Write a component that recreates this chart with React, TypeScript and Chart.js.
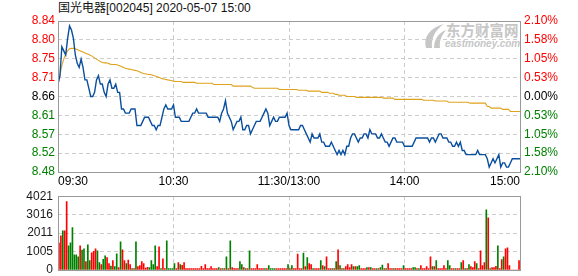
import React, { useEffect, useRef } from 'react';
import { Chart, registerables } from 'chart.js';
Chart.register(...registerables);

const stockTitle = '国光电器[002045] 2020-05-07 15:00';
const prevClose = 8.66;
const limitPct = 2.1;
const priceTickLabels = ['8.48', '8.52', '8.57', '8.61', '8.66', '8.71', '8.75', '8.80', '8.84'];
const pctTickLabels = ['2.10%', '1.58%', '1.05%', '0.53%', '0.00%', '0.53%', '1.05%', '1.58%', '2.10%'];
const timeTicks = [0, 60, 120, 180, 240];
const timeTickLabels = ['09:30', '10:30', '11:30/13:00', '14:00', '15:00'];
const volTicks = [0, 1005, 2011, 3016, 4021];

const price = [
  8.69, 8.71, 8.78, 8.77, 8.76, 8.80, 8.83, 8.82, 8.80, 8.76,
  8.74, 8.73, 8.75, 8.73, 8.70, 8.70, 8.68, 8.66, 8.66, 8.67,
  8.70, 8.71, 8.69, 8.69, 8.67, 8.66, 8.69, 8.70, 8.68, 8.68,
  8.69, 8.67, 8.67, 8.63, 8.63, 8.62, 8.62, 8.62, 8.63, 8.63,
  8.63, 8.59, 8.59, 8.59, 8.60, 8.61, 8.61, 8.61, 8.60, 8.59,
  8.59, 8.58, 8.59, 8.59, 8.61, 8.63, 8.64, 8.63, 8.63, 8.63,
  8.64, 8.61, 8.61, 8.61, 8.60, 8.60, 8.60, 8.60, 8.60, 8.61,
  8.62, 8.62, 8.63, 8.62, 8.62, 8.62, 8.62, 8.62, 8.61, 8.61,
  8.61, 8.61, 8.61, 8.61, 8.60, 8.62, 8.63, 8.65, 8.62, 8.61,
  8.60, 8.58, 8.59, 8.60, 8.60, 8.61, 8.58, 8.58, 8.59, 8.59,
  8.57, 8.58, 8.59, 8.60, 8.60, 8.60, 8.61, 8.62, 8.63, 8.62,
  8.59, 8.60, 8.61, 8.60, 8.60, 8.61, 8.61, 8.61, 8.61, 8.62,
  8.59,
  8.58, 8.58, 8.58, 8.58, 8.58, 8.59, 8.59, 8.58, 8.57, 8.56,
  8.55, 8.57, 8.56, 8.56, 8.56, 8.57, 8.55, 8.55, 8.54, 8.54,
  8.54, 8.55, 8.54, 8.53, 8.52, 8.53, 8.52, 8.53, 8.52, 8.54,
  8.54, 8.56, 8.57, 8.57, 8.56, 8.55, 8.56, 8.56, 8.57, 8.57,
  8.56, 8.58, 8.57, 8.57, 8.57, 8.56, 8.56, 8.57, 8.56, 8.55,
  8.55, 8.54, 8.55, 8.56, 8.56, 8.55, 8.55, 8.55, 8.55, 8.54,
  8.54, 8.54, 8.54, 8.54, 8.55, 8.56, 8.56, 8.56, 8.56, 8.56,
  8.56, 8.56, 8.55, 8.56, 8.56, 8.55, 8.56, 8.57, 8.57, 8.56,
  8.56, 8.56, 8.55, 8.55, 8.54, 8.54, 8.55, 8.54, 8.55, 8.53,
  8.53, 8.52, 8.52, 8.52, 8.52, 8.52, 8.52, 8.53, 8.52, 8.52,
  8.52, 8.52, 8.51, 8.49, 8.50, 8.51, 8.50, 8.51, 8.52, 8.49,
  8.50, 8.50, 8.49, 8.49, 8.50, 8.51, 8.51, 8.51, 8.51, 8.51,
];

const avgPrice = [
  8.690, 8.710, 8.735, 8.750, 8.762, 8.770, 8.775, 8.776, 8.776, 8.775,
  8.773, 8.771, 8.769, 8.767, 8.765, 8.763, 8.761, 8.759, 8.756, 8.753,
  8.750, 8.747, 8.744, 8.742, 8.741, 8.741, 8.740, 8.738, 8.737, 8.737,
  8.737, 8.736, 8.734, 8.732, 8.730, 8.728, 8.727, 8.726, 8.725, 8.724,
  8.723, 8.722, 8.720, 8.718, 8.716, 8.715, 8.714, 8.713, 8.713, 8.712,
  8.710, 8.709, 8.707, 8.705, 8.703, 8.702, 8.701, 8.700, 8.699, 8.698,
  8.697, 8.696, 8.696, 8.696, 8.696, 8.694, 8.694, 8.694, 8.694, 8.694,
  8.694, 8.694, 8.692, 8.692, 8.692, 8.692, 8.692, 8.692, 8.692, 8.692,
  8.692, 8.689, 8.689, 8.689, 8.689, 8.689, 8.689, 8.689, 8.689, 8.689,
  8.689, 8.685, 8.685, 8.685, 8.685, 8.685, 8.685, 8.685, 8.685, 8.685,
  8.685, 8.682, 8.680, 8.680, 8.680, 8.680, 8.680, 8.680, 8.680, 8.680,
  8.680, 8.680, 8.680, 8.680, 8.680, 8.677, 8.677, 8.677, 8.677, 8.677,
  8.677, 8.677, 8.677, 8.677, 8.677, 8.675, 8.675, 8.675, 8.675, 8.675,
  8.673, 8.673, 8.673, 8.673, 8.673, 8.673, 8.673, 8.670, 8.670, 8.670,
  8.670, 8.668, 8.668, 8.668, 8.665, 8.665, 8.663, 8.663, 8.663, 8.663,
  8.660, 8.660, 8.660, 8.660, 8.660, 8.658, 8.658, 8.658, 8.658, 8.658,
  8.658, 8.658, 8.658, 8.658, 8.658, 8.658, 8.658, 8.658, 8.658, 8.656,
  8.656, 8.656, 8.656, 8.656, 8.656, 8.653, 8.653, 8.653, 8.653, 8.653,
  8.653, 8.653, 8.653, 8.653, 8.653, 8.653, 8.653, 8.653, 8.653, 8.653,
  8.651, 8.651, 8.651, 8.651, 8.651, 8.651, 8.649, 8.649, 8.649, 8.649,
  8.649, 8.649, 8.649, 8.646, 8.646, 8.646, 8.646, 8.646, 8.646, 8.646,
  8.646, 8.646, 8.646, 8.646, 8.644, 8.644, 8.644, 8.644, 8.644, 8.644,
  8.644, 8.644, 8.644, 8.636, 8.636, 8.632, 8.632, 8.632, 8.632, 8.632,
  8.632, 8.629, 8.629, 8.629, 8.629, 8.624, 8.624, 8.624, 8.624, 8.624, 8.624,
];

const volume = [
  1466, 1864, 2136, 2136, 3729, 1321, 1484, 2317, 833, 833,
  724, 1321, 1086, 1158, 452, 1376, 507, 941, 1014, 1158,
  1050, 398, 290, 579, 778, 670, 344, 217, 507, 181,
  887, 127, 1539, 1104, 507, 344, 543, 290, 72, 72,
  1539, 181, 235, 452, 344, 109, 145, 127, 507, 290,
  1321, 181, 1267, 72, 615, 72, 1593, 72, 72, 72,
  344, 72, 398, 290, 253, 398, 72, 72, 72, 72,
  72, 72, 72, 72, 199, 72, 290, 72, 72, 181,
  72, 72, 72, 127, 72, 72, 72, 724, 72, 1593,
  127, 72, 72, 72, 452, 290, 127, 72, 72, 1050,
  72, 72, 72, 290, 72, 72, 72, 72, 72, 235,
  72, 72, 72, 72, 72, 72, 72, 72, 72, 290,
  72, 235, 72, 72, 869, 72, 72, 923, 181, 670,
  344, 290, 72, 72, 72, 72, 507, 235, 181, 724,
  72, 72, 72, 72, 452, 1104, 235, 72, 72, 181,
  290, 127, 290, 181, 181, 181, 235, 72, 72, 72,
  127, 127, 127, 72, 72, 72, 72, 127, 272, 72,
  72, 344, 72, 72, 72, 72, 72, 72, 72, 235,
  72, 72, 72, 72, 127, 127, 72, 72, 235, 72,
  72, 181, 72, 724, 181, 181, 507, 72, 72, 72,
  235, 72, 507, 235, 72, 72, 72, 72, 72, 398,
  507, 72, 72, 290, 181, 127, 452, 344, 72, 1050,
  235, 398, 3276, 2842, 72, 127, 127, 199, 1321, 72,
  561, 724, 1158, 1213, 235, 0, 0, 0, 0, 507, 0,
];

// 1 = up minute (red), -1 = down minute (green)
const volDir = [
  1, 1, -1, 1, 1, -1, -1, -1, -1, -1,
  -1, 1, -1, -1, 1, -1, -1, 1, 1, 1,
  -1, -1, 1, -1, -1, 1, 1, -1, 1, -1,
  -1, 1, -1, 1, 1, -1, 1, 1, -1, 1,
  -1, 1, 1, 1, 1, 1, 1, -1, -1, -1,
  -1, 1, 1, -1, 1, 1, -1, -1, -1, -1,
  -1, 1, 1, -1, 1, 1, 1, 1, 1, 1,
  1, 1, 1, 1, 1, 1, 1, 1, 1, 1,
  1, 1, 1, -1, 1, -1, 1, -1, 1, -1,
  1, 1, 1, 1, -1, -1, 1, -1, 1, -1,
  1, 1, 1, 1, 1, 1, 1, -1, 1, -1,
  -1, -1, -1, 1, 1, 1, 1, 1, 1, -1,
  1, -1, 1, 1, 1, 1, 1, -1, 1, -1,
  1, 1, -1, 1, 1, 1, -1, 1, -1, 1,
  1, 1, -1, 1, -1, 1, -1, 1, -1, 1,
  1, 1, 1, -1, 1, -1, -1, 1, 1, 1,
  -1, 1, -1, 1, 1, -1, 1, -1, -1, 1,
  -1, 1, 1, 1, -1, 1, 1, 1, 1, -1,
  1, 1, 1, 1, -1, -1, 1, -1, 1, 1,
  1, 1, 1, 1, -1, 1, -1, 1, 1, 1,
  1, 1, -1, -1, 1, 1, -1, 1, 1, -1,
  1, -1, 1, -1, 1, 1, 1, -1, 1, 1,
  1, 1, -1, 1, -1, 1, 1, 1, -1, 1,
  1, -1, 1, 1, 1, 1, 1, 1, 1, 1, 1,
];

const FONT = '"Liberation Sans", Arial, "Noto Sans CJK SC", sans-serif';
const RED = '#ff0000';
const GREEN = '#008000';
const DARK = '#000000';
const GRID = '#cccccc';
const FRAME = '#999999';

const framePlugin = {
  id: 'frame',
  afterDraw(chart: any) {
    const { ctx, chartArea: a } = chart;
    ctx.save();
    ctx.strokeStyle = FRAME;
    ctx.lineWidth = 1;
    const l = Math.round(a.left) + 0.5;
    const t = Math.round(a.top) + 0.5;
    ctx.strokeRect(l, t, Math.round(a.right) - Math.round(a.left), Math.round(a.bottom) - Math.round(a.top));
    ctx.restore();
  },
};

const timeLabelPlugin = {
  id: 'timeLabels',
  afterDraw(chart: any) {
    const xs = chart.scales.x;
    const { ctx, chartArea } = chart;
    ctx.save();
    ctx.font = '12px ' + FONT;
    ctx.fillStyle = DARK;
    ctx.textBaseline = 'middle';
    timeTicks.forEach((v, i) => {
      const px = xs.getPixelForValue(v);
      ctx.textAlign = i === 0 ? 'left' : i === timeTicks.length - 1 ? 'right' : 'center';
      ctx.fillText(timeTickLabels[i], px, chartArea.bottom + 10);
    });
    ctx.restore();
  },
};

const edgeTransparent = (n: number) => (ctx: any) =>
  ctx.index === 0 || ctx.index === n - 1 ? 'rgba(0,0,0,0)' : GRID;

const levelColor = (ctx: any) => (ctx.index > 4 ? RED : ctx.index === 4 ? DARK : GREEN);

function makeXScale() {
  return {
    type: 'linear' as const,
    min: 0,
    max: 240,
    offset: false,
    afterBuildTicks: (s: any) => {
      s.ticks = timeTicks.map((v) => ({ value: v }));
    },
    afterFit: (s: any) => {
      s.height = 0;
    },
    ticks: { display: false },
    grid: { color: edgeTransparent(timeTicks.length), drawTicks: false, lineWidth: 1, offset: false },
    border: { display: false, dash: [4, 3] },
  };
}

export default function App() {
  const priceRef = useRef<HTMLCanvasElement>(null);
  const volRef = useRef<HTMLCanvasElement>(null);

  useEffect(() => {
    document.body.style.margin = '0';
    const pMin = prevClose * (1 - limitPct / 100);
    const pMax = prevClose * (1 + limitPct / 100);
    const priceTicks = priceTickLabels.map((_, i) => ({ value: pMin + ((pMax - pMin) * i) / (priceTickLabels.length - 1) }));

    const c1 = new Chart(priceRef.current!, {
      type: 'line',
      data: {
        datasets: [
          {
            data: price.map((y, i) => ({ x: i, y })),
            borderColor: '#0a4f9e',
            borderWidth: 1.4,
            pointRadius: 0,
            tension: 0,
            order: 1,
          },
          {
            data: avgPrice.map((y, i) => ({ x: i, y })),
            borderColor: '#dfa21c',
            borderWidth: 1.1,
            pointRadius: 0,
            tension: 0,
            order: 2,
          },
        ],
      },
      options: {
        responsive: false,
        animation: false,
        devicePixelRatio: 1,
        events: [],
        layout: { padding: { top: 21, bottom: 18, left: 0, right: 0 } },
        plugins: { legend: { display: false }, tooltip: { enabled: false } },
        scales: {
          x: makeXScale() as any,
          y: {
            type: 'linear',
            position: 'left',
            min: pMin,
            max: pMax,
            afterBuildTicks: (s: any) => {
              s.ticks = priceTicks.map((t) => ({ ...t }));
            },
            afterFit: (s: any) => {
              s.width = 58;
            },
            ticks: {
              autoSkip: false,
              padding: 3,
              color: levelColor as any,
              font: { family: FONT, size: 12 },
              callback: (_v: any, i: number) => priceTickLabels[i],
            },
            grid: { color: edgeTransparent(priceTickLabels.length) as any, drawTicks: false },
            border: { display: false, dash: [4, 3] },
          },
          y2: {
            type: 'linear',
            position: 'right',
            min: pMin,
            max: pMax,
            afterBuildTicks: (s: any) => {
              s.ticks = priceTicks.map((t) => ({ ...t }));
            },
            afterFit: (s: any) => {
              s.width = 58;
            },
            ticks: {
              autoSkip: false,
              padding: 4,
              color: levelColor as any,
              font: { family: FONT, size: 12 },
              callback: (_v: any, i: number) => pctTickLabels[pctTickLabels.length - 1 - i],
            },
            grid: { display: false, drawTicks: false },
            border: { display: false },
          },
        },
      },
      plugins: [framePlugin, timeLabelPlugin],
    });

    const c2 = new Chart(volRef.current!, {
      type: 'bar',
      data: {
        datasets: [
          {
            data: volume.map((v, i) => ({ x: i + 0.5, y: v })),
            backgroundColor: volDir.map((d) => (d > 0 ? RED : GREEN)),
            borderWidth: 0,
            barThickness: 1,
            grouped: false,
          } as any,
        ],
      },
      options: {
        responsive: false,
        animation: false,
        devicePixelRatio: 1,
        events: [],
        layout: { padding: { top: 12, bottom: 14, left: 0, right: 58 } },
        plugins: { legend: { display: false }, tooltip: { enabled: false } },
        scales: {
          x: makeXScale() as any,
          y: {
            type: 'linear',
            position: 'left',
            min: 0,
            max: volTicks[volTicks.length - 1],
            afterBuildTicks: (s: any) => {
              s.ticks = volTicks.map((v) => ({ value: v }));
            },
            afterFit: (s: any) => {
              s.width = 58;
            },
            ticks: {
              autoSkip: false,
              padding: 5,
              color: '#1a1a1a',
              font: { family: FONT, size: 12 },
              callback: (v: any) => String(v),
            },
            grid: { color: edgeTransparent(volTicks.length) as any, drawTicks: false },
            border: { display: false, dash: [4, 3] },
          },
        },
      },
      plugins: [framePlugin],
    });

    return () => {
      c1.destroy();
      c2.destroy();
    };
  }, []);

  const wm = '#c6c6c6';
  return (
    <div style={{ position: 'fixed', left: 0, top: 0, width: 578, height: 276, overflow: 'hidden', background: '#fff' }}>
      <div
        style={{
          position: 'absolute',
          left: 58,
          top: 0,
          font: '12px ' + FONT,
          lineHeight: '17px',
          color: '#111',
          whiteSpace: 'pre',
        }}
      >
        {stockTitle}
      </div>
      <svg style={{ position: 'absolute', left: 423, top: 23 }} width={24} height={26} viewBox="0 0 24 26">
        <path d="M3 25 C 0 15, 6 5, 21 1 C 12 7, 8 15, 9 25 Z" fill={wm} />
        <path d="M11 25 C 11 17, 15 10, 23 7 C 18 13, 16 19, 17 25 Z" fill={wm} />
      </svg>
      <div
        style={{
          position: 'absolute',
          left: 446,
          top: 21,
          font: 'bold 14.5px "Noto Sans CJK SC", sans-serif',
          lineHeight: '18px',
          color: wm,
          whiteSpace: 'pre',
        }}
      >
        东方财富网
      </div>
      <div
        style={{
          position: 'absolute',
          left: 445,
          top: 38,
          font: 'italic bold 10px ' + FONT,
          lineHeight: '11px',
          color: wm,
          whiteSpace: 'pre',
        }}
      >
        eastmoney.com
      </div>
      <canvas ref={priceRef} width={578} height={190} style={{ position: 'absolute', left: 0, top: 0 }} />
      <canvas ref={volRef} width={578} height={100} style={{ position: 'absolute', left: 0, top: 184 }} />
    </div>
  );
}
